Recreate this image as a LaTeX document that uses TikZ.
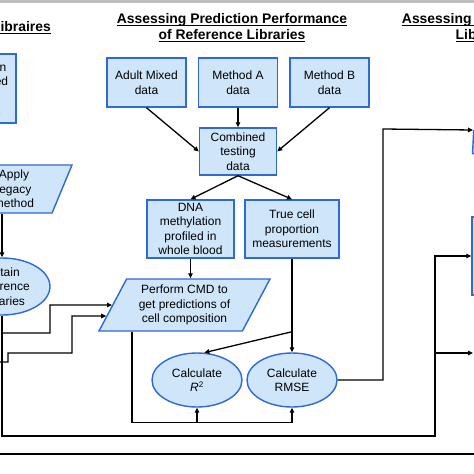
\documentclass[tikz,border=0pt]{standalone}
\usepackage{fontspec}
\setmainfont{Liberation Sans}
\usetikzlibrary{arrows.meta,shapes.geometric}
\definecolor{boxfill}{RGB}{206,229,250}
\definecolor{boxline}{RGB}{45,105,215}
\newcommand{\undl}[1]{\setbox0=\hbox{#1}\rlap{\rule[-2pt]{\wd0}{1.1pt}}\box0}

\begin{document}
\begin{tikzpicture}[x=1pt,y=-1pt,
txt/.style={font=\fontsize{12}{14.5}\selectfont,align=center},
heading/.style={font=\fontsize{13.9}{16}\selectfont\bfseries,align=center,inner sep=0pt},
box/.style={txt,draw=boxline,fill=boxfill,line width=1.4pt,inner sep=1pt},
para/.style={box,trapezium,trapezium stretches body=true},
oval/.style={box,ellipse,inner sep=0pt},
link/.style={line width=1.3pt},
arrow/.style={-{Triangle[length=5pt,width=4.5pt]},line width=1.3pt}]

\useasboundingbox (0,0) rectangle (474,474);
\clip (0,0) rectangle (474,474);
\fill[white] (0,0) rectangle (474,474);
\fill[black!25] (0,0) rectangle (474,2.5);

% headings
\node[heading,anchor=east] (lefthead) at (51,28.4) {\undl{Generating Reference Libraires}};
\node[heading] (midhead) at (232,27.7) {\undl{Assessing Prediction Performance}\\\undl{of Reference Libraries}};
\node[heading] (righthead) at (485,27.7) {\undl{Assessing Application of}\\\undl{Libraries}};

% left column
\node[box,minimum width=55pt,minimum height=69pt] (purified) at (-11.5,88.5) {Obtain\\purified\\cell\\data};
\node[para,trapezium left angle=63.4,trapezium right angle=116.6,minimum width=116pt,minimum height=48pt] (apply) at (14,189) {Apply\\legacy\\method};
\node[oval,minimum width=96pt,minimum height=57pt] (obtain) at (2,286.5) {Obtain\\Reference\\Libraries};

% middle column
\node[box,minimum width=79pt,minimum height=49pt] (mixed) at (146.5,82.5) {Adult Mixed\\data};
\node[box,minimum width=79pt,minimum height=49pt] (metha) at (238,82.5) {Method A\\data};
\node[box,minimum width=79pt,minimum height=49pt] (methb) at (329.5,82.5) {Method B\\data};
\node[box,minimum width=77pt,minimum height=47pt] (comb) at (238,151.5) {Combined\\testing\\data};
\node[box,minimum width=87pt,minimum height=58pt] (dna) at (190.5,229) {DNA\\methylation\\profiled in\\whole blood};
\node[box,minimum width=94pt,minimum height=58pt] (truecell) at (292,229) {True cell\\proportion\\measurements};
\node[para,trapezium left angle=56.8,trapezium right angle=123.2,minimum width=171pt,minimum height=52pt] (cmd) at (184.5,305) {Perform CMD to\\get predictions of\\cell composition};
\node[oval,minimum width=90pt,minimum height=54pt] (r2) at (197,380) {Calculate\\\textit{R}\textsuperscript{2}};
\node[oval,minimum width=90pt,minimum height=54pt] (rmse) at (292,380) {Calculate\\RMSE};

% right column
\node[para,trapezium left angle=60.5,trapezium right angle=119.5,minimum width=120pt,minimum height=23pt,anchor=top left corner] (rpara) at (473,130) {};
\node[box,minimum width=80pt,minimum height=78pt] (rbox) at (512,256) {};

\coordinate (offleft) at (0,362);
\coordinate (offright) at (473,353);
\coordinate (offbl) at (0,454);
\coordinate (offbr) at (474,454);

% connectors
\draw[arrow] (apply.south -| obtain.north) -- (obtain.north);
\draw[arrow] (obtain.south) |- (435,436) |- (rbox.west);
\draw[arrow] (435,353) -- (offright);
\draw[arrow] (2,333) -| (50,305) -- (cmd.west);
\draw[arrow] (offleft) -| (8,353) -| (72,316) -- (cmd.188);
\draw[link] (offbl) -- (offbr);

\draw[arrow] (mixed.south) -- (comb.west);
\draw[arrow] (metha) -- (comb);
\draw[arrow] (methb.south) -- (comb.east);
\draw[arrow] (comb.south) -- (dna.north);
\draw[arrow] (comb.south) -- (truecell.north);
\draw[arrow] (dna.south) -- (dna.south |- cmd.north);
\draw[arrow] (truecell.south) -- (rmse.north);
\draw[arrow] ([yshift=-73pt]truecell.south) -- (r2.75);
\draw[arrow] ([xshift=-52.5pt]cmd.south) -- ++(0,91) -| (rmse.south);
\draw[arrow] ([yshift=-15pt]r2.south) -- (r2.south);
\draw[arrow] (rmse.east) -| (383,129) -- (rpara.top left corner);

\end{tikzpicture}
\end{document}
